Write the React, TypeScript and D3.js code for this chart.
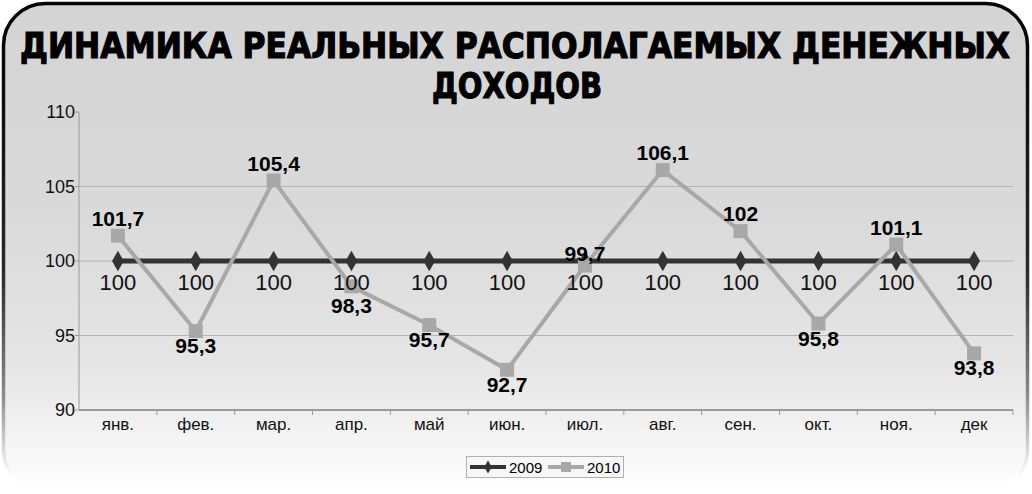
import React from "react";
import * as d3 from "d3";

const months = ["янв.", "фев.", "мар.", "апр.", "май", "июн.", "июл.", "авг.", "сен.", "окт.", "ноя.", "дек"];
const series2009 = [100, 100, 100, 100, 100, 100, 100, 100, 100, 100, 100, 100];
const series2010 = [101.7, 95.3, 105.4, 98.3, 95.7, 92.7, 99.7, 106.1, 102, 95.8, 101.1, 93.8];
const labelAbove2010 = [true, false, true, false, false, false, true, true, true, false, true, false];
const yTicks = [90, 95, 100, 105, 110];
const gridTicks = [95, 100, 105];
const titleLines = ["ДИНАМИКА РЕАЛЬНЫХ РАСПОЛАГАЕМЫХ ДЕНЕЖНЫХ", "ДОХОДОВ"];
const legendNames = ["2009", "2010"];

const W = 1032;
const H = 494;
const plotL = 79;
const plotR = 1013;
const plotT = 112;
const plotB = 410;

// label nudges (layout, not data)
const labelNudge: Record<number, number> = { 3: 5, 6: 6 };

const fmt = (v: number) => String(v).replace(".", ",");

export default function App() {
  const x = d3.scaleBand<string>().domain(months).range([plotL, plotR]);
  const cx = (m: string) => (x(m) as number) + x.bandwidth() / 2;
  const y = d3.scaleLinear().domain([90, 110]).range([plotB, plotT]);
  const line = d3
    .line<number>()
    .x((_, i) => cx(months[i]))
    .y((d) => y(d));

  const dark = "#333333";
  const grey = "#a8a8a8";
  const font = "'Liberation Sans', Arial, sans-serif";

  return (
    <svg
      width={W}
      height={H}
      style={{ position: "absolute", left: 0, top: 0, display: "block" }}
      viewBox={`0 0 ${W} ${H}`}
    >
      <defs>
        <linearGradient id="bg" x1="0" y1="0" x2="0" y2="1">
          <stop offset="0" stopColor="#d4d4d4" />
          <stop offset="0.45" stopColor="#dadada" />
          <stop offset="0.75" stopColor="#e6e6e6" />
          <stop offset="1" stopColor="#ffffff" />
        </linearGradient>
        <linearGradient id="border" x1="0" y1="0" x2="0" y2="1">
          <stop offset="0" stopColor="#000000" />
          <stop offset="0.55" stopColor="#2a2a2a" />
          <stop offset="0.8" stopColor="#8a8a8a" />
          <stop offset="0.97" stopColor="#ffffff" />
        </linearGradient>
      </defs>
      <rect x={0} y={0} width={W} height={H} fill="#ffffff" />
      <rect
        x={3.5}
        y={3.5}
        width={1024}
        height={488}
        rx={42}
        ry={42}
        fill="url(#bg)"
        stroke="url(#border)"
        strokeWidth={3.5}
      />

      {/* title */}
      <text
        x={515}
        y={58}
        textAnchor="middle"
        fontFamily="'Liberation Sans Narrow', 'DejaVu Sans Condensed', sans-serif"
        fontWeight="bold"
        fontSize={35}
        fill="#000"
        stroke="#000"
        strokeWidth={1.1}
        textLength={990}
        lengthAdjust="spacingAndGlyphs"
      >
        {titleLines[0]}
      </text>
      <text
        x={517}
        y={98}
        textAnchor="middle"
        fontFamily="'Liberation Sans Narrow', 'DejaVu Sans Condensed', sans-serif"
        fontWeight="bold"
        fontSize={35}
        fill="#000"
        stroke="#000"
        strokeWidth={1.1}
        textLength={170}
        lengthAdjust="spacingAndGlyphs"
      >
        {titleLines[1]}
      </text>

      {/* gridlines */}
      {gridTicks.map((t) => (
        <line key={"g" + t} x1={plotL} x2={plotR} y1={y(t)} y2={y(t)} stroke="#b4b4b4" strokeWidth={1.2} />
      ))}

      {/* y axis */}
      <line x1={plotL} x2={plotL} y1={plotT} y2={plotB} stroke="#9a9a9a" strokeWidth={1} />
      {yTicks.map((t) => (
        <g key={"y" + t}>
          <line x1={plotL - 4} x2={plotL} y1={y(t)} y2={y(t)} stroke="#9a9a9a" />
          <text x={plotL - 4} y={y(t) + 6} textAnchor="end" fontFamily={font} fontSize={18} fill="#111">
            {t}
          </text>
        </g>
      ))}

      {/* x axis */}
      <line x1={plotL} x2={plotR} y1={plotB} y2={plotB} stroke="#9a9a9a" strokeWidth={2} />
      {months.map((m) => (
        <g key={"x" + m}>
          <line
            x1={(x(m) as number) + x.bandwidth()}
            x2={(x(m) as number) + x.bandwidth()}
            y1={plotB}
            y2={plotB + 5}
            stroke="#9a9a9a"
          />
          <text x={cx(m)} y={430} textAnchor="middle" fontFamily={font} fontSize={17} fill="#111">
            {m}
          </text>
        </g>
      ))}

      {/* 2009 series */}
      <path d={line(series2009) || ""} fill="none" stroke={dark} strokeWidth={5} />
      {series2009.map((v, i) => (
        <path
          key={"d" + i}
          d={d3.symbol(d3.symbolDiamond, 120)() || ""}
          transform={`translate(${cx(months[i])},${y(v)})`}
          fill={dark}
        />
      ))}

      {/* 2010 series */}
      <path d={line(series2010) || ""} fill="none" stroke={grey} strokeWidth={4} />
      {series2010.map((v, i) => (
        <rect
          key={"s" + i}
          x={cx(months[i]) - 7}
          y={y(v) - 7}
          width={14}
          height={14}
          fill={grey}
        />
      ))}

      {/* 2009 labels */}
      {series2009.map((v, i) => (
        <text
          key={"l9" + i}
          x={cx(months[i])}
          y={y(v) + 29}
          textAnchor="middle"
          fontFamily={font}
          fontSize={22}
          fill="#111"
        >
          {fmt(v)}
        </text>
      ))}

      {/* 2010 labels */}
      {series2010.map((v, i) => (
        <text
          key={"l10" + i}
          x={cx(months[i])}
          y={(labelAbove2010[i] ? y(v) - 10 : y(v) + 22) + (labelNudge[i] || 0)}
          textAnchor="middle"
          fontFamily={font}
          fontWeight="bold"
          fontSize={21}
          fill="#000"
        >
          {fmt(v)}
        </text>
      ))}

      {/* legend */}
      <rect x={466.5} y={456.5} width={157} height={21} fill="#f7f7f7" stroke="#b0b0b0" strokeWidth={1} />
      <line x1={470} x2={506} y1={467} y2={467} stroke={dark} strokeWidth={4} />
      <path d={d3.symbol(d3.symbolDiamond, 50)() || ""} transform="translate(488,467)" fill={dark} />
      <text x={509} y={473} fontFamily={font} fontSize={15} fill="#000">
        {legendNames[0]}
      </text>
      <line x1={548} x2={584} y1={467} y2={467} stroke={grey} strokeWidth={4} />
      <rect x={561} y={462} width={10} height={10} fill={grey} />
      <text x={587} y={473} fontFamily={font} fontSize={15} fill="#000">
        {legendNames[1]}
      </text>
    </svg>
  );
}
